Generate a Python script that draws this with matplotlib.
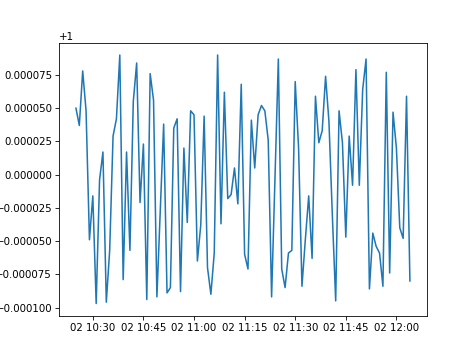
import numpy as np
import matplotlib
matplotlib.use("Agg")
import matplotlib.pyplot as plt
import matplotlib.dates as mdates

start_time = "2020-01-02T10:25"
n_points = 100
# deviations from 1, in units of 1e-6
deviations = [
    50, 37, 78, 48, -49, -16, -97, -4, 17, -96,
    -57, 29, 42, 90, -79, 17, -57, 55, 84, -21,
    23, -94, 76, 56, -92, -27, 38, -89, -85, 35,
    42, -88, 20, -36, 48, 45, -65, -38, 44, -70,
    -90, -59, 90, -37, 62, -18, -15, 5, -22, 68,
    -60, -71, 41, 5, 45, 52, 48, 26, -92, -3,
    87, -71, -85, -59, -57, 70, 20, -84, -49, -16,
    -63, 59, 24, 33, 74, 40, -30, -95, 48, 24,
    -47, 29, -8, 79, -8, 64, 87, -86, -44, -54,
    -59, -84, 77, -74, 47, 20, -40, -48, 59, -80,
]

times = np.arange(np.datetime64(start_time), np.datetime64(start_time) + np.timedelta64(n_points, 'm'),
                  np.timedelta64(1, 'm')).astype('datetime64[s]').astype(object)
values = 1 + np.array(deviations) * 1e-6

fig, ax = plt.subplots(figsize=(474 / 74, 355 / 74), dpi=74)
ax.plot(times, values)
ax.xaxis.set_major_locator(mdates.MinuteLocator(byminute=[0, 15, 30, 45]))
ax.xaxis.set_major_formatter(mdates.DateFormatter('%d %H:%M'))
fig.savefig("out.png", dpi=74)
